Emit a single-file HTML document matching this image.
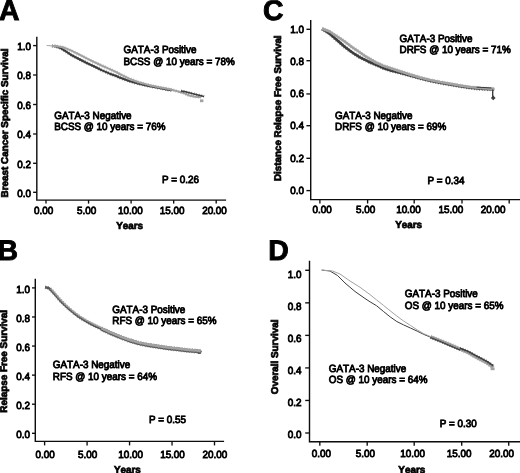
<!DOCTYPE html>
<html><head><meta charset="utf-8"><title>Figure</title>
<style>
html,body{margin:0;padding:0;background:#fff;}
svg{display:block}
text{font-family:"Liberation Sans",Arial,sans-serif;fill:#000;text-rendering:geometricPrecision;font-kerning:none;}
.t{font-size:9.9px;stroke:#000;stroke-width:0.78px;}
.a{font-size:9.9px;stroke:#000;stroke-width:0.78px;}
.b{font-size:9.9px;font-weight:bold;stroke:#000;stroke-width:0.7px;}
.L{font-size:28.4px;font-weight:bold;stroke:#000;stroke-width:0.9px;}
</style></head><body>
<svg width="520" height="473" viewBox="0 0 520 473">
<defs><filter id="soft" x="0" y="0" width="520" height="473" filterUnits="userSpaceOnUse"><feGaussianBlur stdDeviation="0.38"/></filter></defs>
<rect width="520" height="473" fill="#fff"/>
<g filter="url(#soft)">
<path d="M46.60,45.50 L53.00,45.90" fill="none" stroke="#aaa" stroke-width="1.2" stroke-linejoin="round"/>
<path d="M52.00,46.00 L55.40,46.30 L61.50,48.50 L66.20,51.60 L70.80,54.70 L78.50,58.80 L86.20,62.70 L93.80,66.20 L101.50,70.10 L109.20,73.40 L116.90,76.30 L119.60,77.60 L129.20,81.00 L138.80,83.80 L148.50,85.90 L158.10,87.80 L167.70,89.60 L172.00,90.30" fill="none" stroke="#3c3c3c" stroke-width="2.1" stroke-linejoin="round"/>
<path d="M52.00,46.00 L55.40,46.30 L61.50,48.50 L66.20,51.60 L70.80,54.70 L78.50,58.80 L86.20,62.70 L93.80,66.20 L101.50,70.10 L109.20,73.40 L116.90,76.30 L119.60,77.60 L129.20,81.00 L138.80,83.80 L148.50,85.90 L158.10,87.80 L167.70,89.60 L172.00,90.30" fill="none" stroke="#3c3c3c" stroke-width="3.4" stroke-dasharray="0.7 1.9" stroke-opacity="0.75" stroke-linejoin="round"/>
<path d="M52.00,46.00 L55.40,46.10 L63.10,47.30 L70.80,50.40 L78.50,54.20 L86.20,58.10 L93.80,61.90 L101.50,65.50 L109.20,68.80 L116.90,72.40 L119.60,74.00 L129.20,78.60 L138.80,82.30 L148.50,84.90 L158.10,86.90 L170.00,89.20 L184.40,93.30 L189.20,95.50 L195.00,96.80 L201.00,97.30" fill="none" stroke="#a2a2a2" stroke-width="2.0" stroke-linejoin="round"/>
<path d="M52.00,46.00 L55.40,46.10 L63.10,47.30 L70.80,50.40 L78.50,54.20 L86.20,58.10 L93.80,61.90 L101.50,65.50 L109.20,68.80 L116.90,72.40 L119.60,74.00 L129.20,78.60 L138.80,82.30 L148.50,84.90 L158.10,86.90 L170.00,89.20 L184.40,93.30 L189.20,95.50 L195.00,96.80 L201.00,97.30" fill="none" stroke="#a2a2a2" stroke-width="3.3" stroke-dasharray="0.7 1.9" stroke-opacity="0.75" stroke-linejoin="round"/>
<path d="M181.00,91.00 L184.40,91.60 L194.00,93.90 L204.10,96.40" fill="none" stroke="#3c3c3c" stroke-width="1.5" stroke-linejoin="round"/>
<path d="M181.00,91.00 L184.40,91.60 L194.00,93.90 L204.10,96.40" fill="none" stroke="#3c3c3c" stroke-width="2.8" stroke-dasharray="0.7 1.9" stroke-opacity="0.75" stroke-linejoin="round"/>
<rect x="200" y="99.4" width="3.4" height="2.8" fill="#a2a2a2"/>
<path d="M322.10,28.80 L329.20,33.30 L336.90,40.00 L344.60,46.70 L352.30,52.50 L360.00,57.30 L367.70,61.20 L375.40,64.60 L383.10,67.90 L390.80,70.50 L400.00,72.80 L410.00,75.50 L420.00,78.30 L430.00,80.80 L440.00,82.80 L450.00,84.50 L460.00,86.20 L470.00,87.80 L480.00,88.80 L494.20,89.50" fill="none" stroke="#3c3c3c" stroke-width="2.6" stroke-linejoin="round"/>
<path d="M322.10,28.80 L329.20,33.30 L336.90,40.00 L344.60,46.70 L352.30,52.50 L360.00,57.30 L367.70,61.20 L375.40,64.60 L383.10,67.90 L390.80,70.50 L400.00,72.80 L410.00,75.50 L420.00,78.30 L430.00,80.80 L440.00,82.80 L450.00,84.50 L460.00,86.20 L470.00,87.80 L480.00,88.80 L494.20,89.50" fill="none" stroke="#3c3c3c" stroke-width="3.9" stroke-dasharray="0.7 1.9" stroke-opacity="0.75" stroke-linejoin="round"/>
<path d="M322.10,28.80 L329.20,31.30 L336.90,36.20 L344.60,41.50 L352.30,47.30 L360.00,52.50 L367.70,57.70 L375.40,62.10 L383.10,65.60 L390.80,68.20 L400.00,71.25 L410.00,74.50 L420.00,77.50 L430.00,80.00 L440.00,82.00 L450.00,83.75 L460.00,85.50 L470.00,87.10 L480.00,88.10 L494.40,88.90" fill="none" stroke="#a2a2a2" stroke-width="2.5" stroke-linejoin="round"/>
<path d="M322.10,28.80 L329.20,31.30 L336.90,36.20 L344.60,41.50 L352.30,47.30 L360.00,52.50 L367.70,57.70 L375.40,62.10 L383.10,65.60 L390.80,68.20 L400.00,71.25 L410.00,74.50 L420.00,77.50 L430.00,80.00 L440.00,82.00 L450.00,83.75 L460.00,85.50 L470.00,87.10 L480.00,88.10 L494.40,88.90" fill="none" stroke="#a2a2a2" stroke-width="3.8" stroke-dasharray="0.7 1.9" stroke-opacity="0.75" stroke-linejoin="round"/>
<path d="M476.5,87.2 L484,87.5 L491.5,88" fill="none" stroke="#3c3c3c" stroke-width="1"/>
<path d="M492.7,89.5 V97" fill="none" stroke="#3c3c3c" stroke-width="1.4"/>
<path d="M493.2,95.6 L495.6,98 L493.2,100.3 L490.9,98 Z" fill="#3c3c3c"/>
<path d="M45.10,287.30 L48.50,287.90 L50.80,289.80 L55.40,294.90 L60.00,300.30 L64.60,304.90 L69.20,309.10 L73.80,312.90 L78.50,316.50 L83.10,319.50 L87.70,322.10 L92.30,324.60 L96.90,326.80 L101.50,328.80 L106.20,330.90 L110.00,332.80 L119.60,336.80 L129.20,340.30 L138.80,343.20 L148.50,345.10 L158.10,346.60 L167.70,348.00 L177.30,349.10 L186.90,350.30 L196.50,351.10 L200.60,351.50 L199.30,352.00 L199.30,354.00" fill="none" stroke="#585858" stroke-width="2.5" stroke-linejoin="round"/>
<path d="M45.10,287.30 L48.50,287.90 L50.80,289.80 L55.40,294.90 L60.00,300.30 L64.60,304.90 L69.20,309.10 L73.80,312.90 L78.50,316.50 L83.10,319.50 L87.70,322.10 L92.30,324.60 L96.90,326.80 L101.50,328.80 L106.20,330.90 L110.00,332.80 L119.60,336.80 L129.20,340.30 L138.80,343.20 L148.50,345.10 L158.10,346.60 L167.70,348.00 L177.30,349.10 L186.90,350.30 L196.50,351.10 L200.60,351.50 L199.30,352.00 L199.30,354.00" fill="none" stroke="#585858" stroke-width="3.8" stroke-dasharray="0.7 1.9" stroke-opacity="0.75" stroke-linejoin="round"/>
<path d="M101.50,329.00 L106.20,331.10 L110.00,333.00 L119.60,337.00 L129.20,340.50 L138.80,343.40 L148.50,345.30 L158.10,346.80 L167.70,348.20 L177.30,349.30 L186.90,350.50 L196.50,351.30 L200.60,351.70" fill="none" stroke="#585858" stroke-width="3.4" stroke-linejoin="round"/>
<path d="M101.50,329.00 L106.20,331.10 L110.00,333.00 L119.60,337.00 L129.20,340.50 L138.80,343.40 L148.50,345.30 L158.10,346.80 L167.70,348.20 L177.30,349.30 L186.90,350.50 L196.50,351.30 L200.60,351.70" fill="none" stroke="#585858" stroke-width="4.7" stroke-dasharray="0.7 1.9" stroke-opacity="0.75" stroke-linejoin="round"/>
<path d="M50.80,288.60 L55.40,293.70 L60.00,299.10 L64.60,303.70 L69.20,307.90 L73.80,311.70 L78.50,315.30 L83.10,318.30 L87.70,320.90 L92.30,323.40 L96.90,325.60 L101.50,327.60 L106.20,329.70 L110.00,331.60 L119.60,335.60 L129.20,339.10 L138.80,342.00 L148.50,343.90 L158.10,345.40 L167.70,346.80 L177.30,347.90 L186.90,349.10 L196.50,349.90 L200.60,350.30" fill="none" stroke="#a2a2a2" stroke-width="1.2" stroke-linejoin="round"/>
<path d="M50.80,288.60 L55.40,293.70 L60.00,299.10 L64.60,303.70 L69.20,307.90 L73.80,311.70 L78.50,315.30 L83.10,318.30 L87.70,320.90 L92.30,323.40 L96.90,325.60 L101.50,327.60 L106.20,329.70 L110.00,331.60 L119.60,335.60 L129.20,339.10 L138.80,342.00 L148.50,343.90 L158.10,345.40 L167.70,346.80 L177.30,347.90 L186.90,349.10 L196.50,349.90 L200.60,350.30" fill="none" stroke="#a2a2a2" stroke-width="2.5" stroke-dasharray="0.7 1.9" stroke-opacity="0.75" stroke-linejoin="round"/>
<path d="M101.50,328.40 L106.20,330.50 L110.00,332.40 L119.60,336.40 L129.20,339.90 L138.80,342.80 L148.50,344.70 L158.10,346.20 L167.70,347.60 L177.30,348.70 L186.90,349.90 L196.50,350.70 L200.60,351.10" fill="none" stroke="#a2a2a2" stroke-width="2.1" stroke-linejoin="round"/>
<path d="M101.50,328.40 L106.20,330.50 L110.00,332.40 L119.60,336.40 L129.20,339.90 L138.80,342.80 L148.50,344.70 L158.10,346.20 L167.70,347.60 L177.30,348.70 L186.90,349.90 L196.50,350.70 L200.60,351.10" fill="none" stroke="#a2a2a2" stroke-width="3.4" stroke-dasharray="0.7 1.9" stroke-opacity="0.75" stroke-linejoin="round"/>
<path d="M321.70,270.10 L330.00,271.00 L337.50,275.50 L345.00,283.00 L355.00,291.50 L365.00,298.50 L370.00,301.80 L376.70,305.80 L383.50,311.50 L390.20,316.90 L396.90,321.60 L403.60,324.90 L410.40,328.00 L417.10,331.10 L423.80,334.40 L430.60,337.20" fill="none" stroke="#3c3c3c" stroke-width="1" stroke-linejoin="round"/>
<path d="M321.70,270.10 L332.50,271.00 L340.00,274.00 L350.00,281.00 L360.00,287.25 L370.00,294.60 L376.70,300.00 L383.50,305.40 L390.20,310.80 L396.90,316.10 L403.60,321.00 L410.40,325.40 L417.10,329.80 L423.80,333.70 L430.60,336.60" fill="none" stroke="#a2a2a2" stroke-width="1" stroke-linejoin="round"/>
<path d="M430.50,336.90 L440.40,340.80 L449.60,344.60 L458.80,348.50 L468.10,352.60 L477.30,357.70 L486.50,362.60 L493.60,367.40" fill="none" stroke="#a2a2a2" stroke-width="3.3" stroke-linejoin="round"/>
<path d="M430.50,336.90 L440.40,340.80 L449.60,344.60 L458.80,348.50 L468.10,352.60 L477.30,357.70 L486.50,362.60 L493.60,367.40" fill="none" stroke="#a2a2a2" stroke-width="4.6" stroke-dasharray="0.7 1.9" stroke-opacity="0.75" stroke-linejoin="round"/>
<path d="M430.50,337.60 L440.40,341.60 L449.60,345.50 L460.00,349.90" fill="none" stroke="#3c3c3c" stroke-width="1.1" stroke-linejoin="round"/>
<path d="M430.50,337.60 L440.40,341.60 L449.60,345.50 L460.00,349.90" fill="none" stroke="#3c3c3c" stroke-width="2.4" stroke-dasharray="0.7 1.9" stroke-opacity="0.75" stroke-linejoin="round"/>
<path d="M460.00,348.20 L468.10,351.40 L477.30,356.30 L486.50,361.20 L493.20,365.60" fill="none" stroke="#3c3c3c" stroke-width="1.5" stroke-linejoin="round"/>
<path d="M460.00,348.20 L468.10,351.40 L477.30,356.30 L486.50,361.20 L493.20,365.60" fill="none" stroke="#3c3c3c" stroke-width="2.8" stroke-dasharray="0.7 1.9" stroke-opacity="0.75" stroke-linejoin="round"/>
<rect x="490.6" y="367.6" width="4" height="2.6" fill="#a2a2a2"/>
<path d="M36.8,37.5 V200.1 H225.4" fill="none" stroke="#0d0d0d" stroke-width="1.4" stroke-linecap="square" stroke-linejoin="miter"/>
<path d="M33.10,45.60 H36.8" stroke="#0d0d0d" stroke-width="1.35"/>
<path d="M33.10,75.00 H36.8" stroke="#0d0d0d" stroke-width="1.35"/>
<path d="M33.10,104.50 H36.8" stroke="#0d0d0d" stroke-width="1.35"/>
<path d="M33.10,134.00 H36.8" stroke="#0d0d0d" stroke-width="1.35"/>
<path d="M33.10,163.30 H36.8" stroke="#0d0d0d" stroke-width="1.35"/>
<path d="M33.10,192.30 H36.8" stroke="#0d0d0d" stroke-width="1.35"/>
<path d="M46.00,200.1 V203.60" stroke="#0d0d0d" stroke-width="1.35"/>
<path d="M88.55,200.1 V203.60" stroke="#0d0d0d" stroke-width="1.35"/>
<path d="M131.10,200.1 V203.60" stroke="#0d0d0d" stroke-width="1.35"/>
<path d="M173.65,200.1 V203.60" stroke="#0d0d0d" stroke-width="1.35"/>
<path d="M216.20,200.1 V203.60" stroke="#0d0d0d" stroke-width="1.35"/>
<text class="t" transform="translate(31.1,49.80) scale(1,1.05)" text-anchor="end">1.0</text>
<text class="t" transform="translate(31.1,79.20) scale(1,1.05)" text-anchor="end">0.8</text>
<text class="t" transform="translate(31.1,108.70) scale(1,1.05)" text-anchor="end">0.6</text>
<text class="t" transform="translate(31.1,138.20) scale(1,1.05)" text-anchor="end">0.4</text>
<text class="t" transform="translate(31.1,167.50) scale(1,1.05)" text-anchor="end">0.2</text>
<text class="t" transform="translate(31.1,196.50) scale(1,1.05)" text-anchor="end">0.0</text>
<text class="t" transform="translate(43.60,213.80) scale(1,1.05)" text-anchor="middle">0.00</text>
<text class="t" transform="translate(86.60,213.80) scale(1,1.05)" text-anchor="middle">5.00</text>
<text class="t" transform="translate(130.30,213.80) scale(1,1.05)" text-anchor="middle">10.00</text>
<text class="t" transform="translate(172.20,213.80) scale(1,1.05)" text-anchor="middle">15.00</text>
<text class="t" transform="translate(214.50,213.80) scale(1,1.05)" text-anchor="middle">20.00</text>
<path d="M310.7,20.6 V199.6 H520" fill="none" stroke="#0d0d0d" stroke-width="1.4" stroke-linecap="square" stroke-linejoin="miter"/>
<path d="M306.40,29.30 H310.7" stroke="#0d0d0d" stroke-width="1.35"/>
<path d="M306.40,60.70 H310.7" stroke="#0d0d0d" stroke-width="1.35"/>
<path d="M306.40,93.95 H310.7" stroke="#0d0d0d" stroke-width="1.35"/>
<path d="M306.40,125.70 H310.7" stroke="#0d0d0d" stroke-width="1.35"/>
<path d="M306.40,158.30 H310.7" stroke="#0d0d0d" stroke-width="1.35"/>
<path d="M306.40,190.60 H310.7" stroke="#0d0d0d" stroke-width="1.35"/>
<path d="M319.90,199.6 V203.50" stroke="#0d0d0d" stroke-width="1.35"/>
<path d="M367.60,199.6 V203.50" stroke="#0d0d0d" stroke-width="1.35"/>
<path d="M414.20,199.6 V203.50" stroke="#0d0d0d" stroke-width="1.35"/>
<path d="M462.00,199.6 V203.50" stroke="#0d0d0d" stroke-width="1.35"/>
<path d="M509.20,199.6 V203.50" stroke="#0d0d0d" stroke-width="1.35"/>
<text class="t" transform="translate(304,32.50) scale(1,1.05)" text-anchor="end">1.0</text>
<text class="t" transform="translate(304,64.82) scale(1,1.05)" text-anchor="end">0.8</text>
<text class="t" transform="translate(304,97.14) scale(1,1.05)" text-anchor="end">0.6</text>
<text class="t" transform="translate(304,129.46) scale(1,1.05)" text-anchor="end">0.4</text>
<text class="t" transform="translate(304,161.78) scale(1,1.05)" text-anchor="end">0.2</text>
<text class="t" transform="translate(304,194.10) scale(1,1.05)" text-anchor="end">0.0</text>
<text class="t" transform="translate(322.20,212.70) scale(1,1.05)" text-anchor="middle">0.00</text>
<text class="t" transform="translate(365.60,212.70) scale(1,1.05)" text-anchor="middle">5.00</text>
<text class="t" transform="translate(408.50,212.70) scale(1,1.05)" text-anchor="middle">10.00</text>
<text class="t" transform="translate(450.80,212.70) scale(1,1.05)" text-anchor="middle">15.00</text>
<text class="t" transform="translate(493.10,212.70) scale(1,1.05)" text-anchor="middle">20.00</text>
<path d="M35.3,279.5 V441.4 H223.4" fill="none" stroke="#0d0d0d" stroke-width="1.4" stroke-linecap="square" stroke-linejoin="miter"/>
<path d="M32.00,287.90 H35.3" stroke="#0d0d0d" stroke-width="1.35"/>
<path d="M32.00,316.98 H35.3" stroke="#0d0d0d" stroke-width="1.35"/>
<path d="M32.00,346.06 H35.3" stroke="#0d0d0d" stroke-width="1.35"/>
<path d="M32.00,375.14 H35.3" stroke="#0d0d0d" stroke-width="1.35"/>
<path d="M32.00,404.22 H35.3" stroke="#0d0d0d" stroke-width="1.35"/>
<path d="M32.00,433.30 H35.3" stroke="#0d0d0d" stroke-width="1.35"/>
<path d="M44.60,441.4 V445.40" stroke="#0d0d0d" stroke-width="1.35"/>
<path d="M87.08,441.4 V445.40" stroke="#0d0d0d" stroke-width="1.35"/>
<path d="M129.55,441.4 V445.40" stroke="#0d0d0d" stroke-width="1.35"/>
<path d="M172.03,441.4 V445.40" stroke="#0d0d0d" stroke-width="1.35"/>
<path d="M214.50,441.4 V445.40" stroke="#0d0d0d" stroke-width="1.35"/>
<text class="t" transform="translate(30.1,292.70) scale(1,1.05)" text-anchor="end">1.0</text>
<text class="t" transform="translate(30.1,321.78) scale(1,1.05)" text-anchor="end">0.8</text>
<text class="t" transform="translate(30.1,350.86) scale(1,1.05)" text-anchor="end">0.6</text>
<text class="t" transform="translate(30.1,379.94) scale(1,1.05)" text-anchor="end">0.4</text>
<text class="t" transform="translate(30.1,409.02) scale(1,1.05)" text-anchor="end">0.2</text>
<text class="t" transform="translate(30.1,438.10) scale(1,1.05)" text-anchor="end">0.0</text>
<text class="t" transform="translate(45.10,457.50) scale(1,1.05)" text-anchor="middle">0.00</text>
<text class="t" transform="translate(87.60,457.50) scale(1,1.05)" text-anchor="middle">5.00</text>
<text class="t" transform="translate(130.60,457.50) scale(1,1.05)" text-anchor="middle">10.00</text>
<text class="t" transform="translate(172.50,457.50) scale(1,1.05)" text-anchor="middle">15.00</text>
<text class="t" transform="translate(214.95,457.50) scale(1,1.05)" text-anchor="middle">20.00</text>
<path d="M309.5,261.5 V441.8 H520" fill="none" stroke="#0d0d0d" stroke-width="1.4" stroke-linecap="square" stroke-linejoin="miter"/>
<path d="M305.20,270.30 H309.5" stroke="#0d0d0d" stroke-width="1.35"/>
<path d="M305.20,302.84 H309.5" stroke="#0d0d0d" stroke-width="1.35"/>
<path d="M305.20,335.38 H309.5" stroke="#0d0d0d" stroke-width="1.35"/>
<path d="M305.20,367.92 H309.5" stroke="#0d0d0d" stroke-width="1.35"/>
<path d="M305.20,400.46 H309.5" stroke="#0d0d0d" stroke-width="1.35"/>
<path d="M305.20,433.00 H309.5" stroke="#0d0d0d" stroke-width="1.35"/>
<path d="M319.80,441.8 V445.70" stroke="#0d0d0d" stroke-width="1.35"/>
<path d="M367.20,441.8 V445.70" stroke="#0d0d0d" stroke-width="1.35"/>
<path d="M414.20,441.8 V445.70" stroke="#0d0d0d" stroke-width="1.35"/>
<path d="M461.70,441.8 V445.70" stroke="#0d0d0d" stroke-width="1.35"/>
<path d="M508.70,441.8 V445.70" stroke="#0d0d0d" stroke-width="1.35"/>
<text class="t" transform="translate(301.4,278.30) scale(1,1.05)" text-anchor="end">1.0</text>
<text class="t" transform="translate(301.4,310.14) scale(1,1.05)" text-anchor="end">0.8</text>
<text class="t" transform="translate(301.4,341.98) scale(1,1.05)" text-anchor="end">0.6</text>
<text class="t" transform="translate(301.4,373.82) scale(1,1.05)" text-anchor="end">0.4</text>
<text class="t" transform="translate(301.4,405.66) scale(1,1.05)" text-anchor="end">0.2</text>
<text class="t" transform="translate(301.4,437.50) scale(1,1.05)" text-anchor="end">0.0</text>
<text class="t" transform="translate(321.40,457.40) scale(1,1.05)" text-anchor="middle">0.00</text>
<text class="t" transform="translate(365.30,457.40) scale(1,1.05)" text-anchor="middle">5.00</text>
<text class="t" transform="translate(412.70,457.40) scale(1,1.05)" text-anchor="middle">10.00</text>
<text class="t" transform="translate(459.10,457.40) scale(1,1.05)" text-anchor="middle">15.00</text>
<text class="t" transform="translate(501.70,457.40) scale(1,1.05)" text-anchor="middle">20.00</text>
<text class="L" x="-1" y="19.5">A</text>
<text class="L" x="-2.4" y="260.4">B</text>
<text class="L" x="262.9" y="20.1">C</text>
<text class="L" x="268.2" y="260.4">D</text>
<text class="a" transform="translate(123.5,53.20) scale(1,1.06)">GATA-3 Positive</text>
<text class="a" transform="translate(123.5,64.60) scale(1,1.06)">BCSS @ 10 years = 78%</text>
<text class="a" transform="translate(54.2,118.80) scale(1,1.06)">GATA-3 Negative</text>
<text class="a" transform="translate(54.2,129.80) scale(1,1.06)">BCSS @ 10 years = 76%</text>
<text class="a" transform="translate(162,182.70) scale(1,1.06)">P = 0.26</text>
<text class="a" transform="translate(399.5,41.70) scale(1,1.06)">GATA-3 Positive</text>
<text class="a" transform="translate(399.5,53.10) scale(1,1.06)">DRFS @ 10 years = 71%</text>
<text class="a" transform="translate(335,118.50) scale(1,1.06)">GATA-3 Negative</text>
<text class="a" transform="translate(335,129.90) scale(1,1.06)">DRFS @ 10 years = 69%</text>
<text class="a" transform="translate(427.5,183.80) scale(1,1.06)">P = 0.34</text>
<text class="a" transform="translate(112.3,312.50) scale(1,1.06)">GATA-3 Positive</text>
<text class="a" transform="translate(112.3,324.10) scale(1,1.06)">RFS @ 10 years = 65%</text>
<text class="a" transform="translate(52.8,368.20) scale(1,1.06)">GATA-3 Negative</text>
<text class="a" transform="translate(52.8,379.60) scale(1,1.06)">RFS @ 10 years = 64%</text>
<text class="a" transform="translate(148.9,423.40) scale(1,1.06)">P = 0.55</text>
<text class="a" transform="translate(404.8,297.40) scale(1,1.06)">GATA-3 Positive</text>
<text class="a" transform="translate(404.8,308.80) scale(1,1.06)">OS @ 10 years = 65%</text>
<text class="a" transform="translate(328.8,371.70) scale(1,1.06)">GATA-3 Negative</text>
<text class="a" transform="translate(328.8,383.30) scale(1,1.06)">OS @ 10 years = 64%</text>
<text class="a" transform="translate(439.7,427.30) scale(1,1.06)">P = 0.30</text>
<text class="b" x="129.6" y="228.8" text-anchor="middle">Years</text>
<text class="b" x="408.6" y="227.5" text-anchor="middle">Years</text>
<text class="b" x="127.4" y="472.6" text-anchor="middle">Years</text>
<text class="b" x="411.8" y="472.6" text-anchor="middle">Years</text>
<text class="b" style="font-size:9.9px" transform="translate(7.5,123) rotate(-90)" text-anchor="middle">Breast Cancer Specific Survival</text>
<text class="b" style="font-size:9.82px" transform="translate(281.4,108.25) rotate(-90)" text-anchor="middle">Distance Relapse Free Survival</text>
<text class="b" style="font-size:9.9px" transform="translate(6.9,361.3) rotate(-90)" text-anchor="middle">Relapse Free Survival</text>
<text class="b" style="font-size:9.9px" transform="translate(277.8,356.9) rotate(-90)" text-anchor="middle">Overall Survival</text>
</g>
</svg>
</body></html>
